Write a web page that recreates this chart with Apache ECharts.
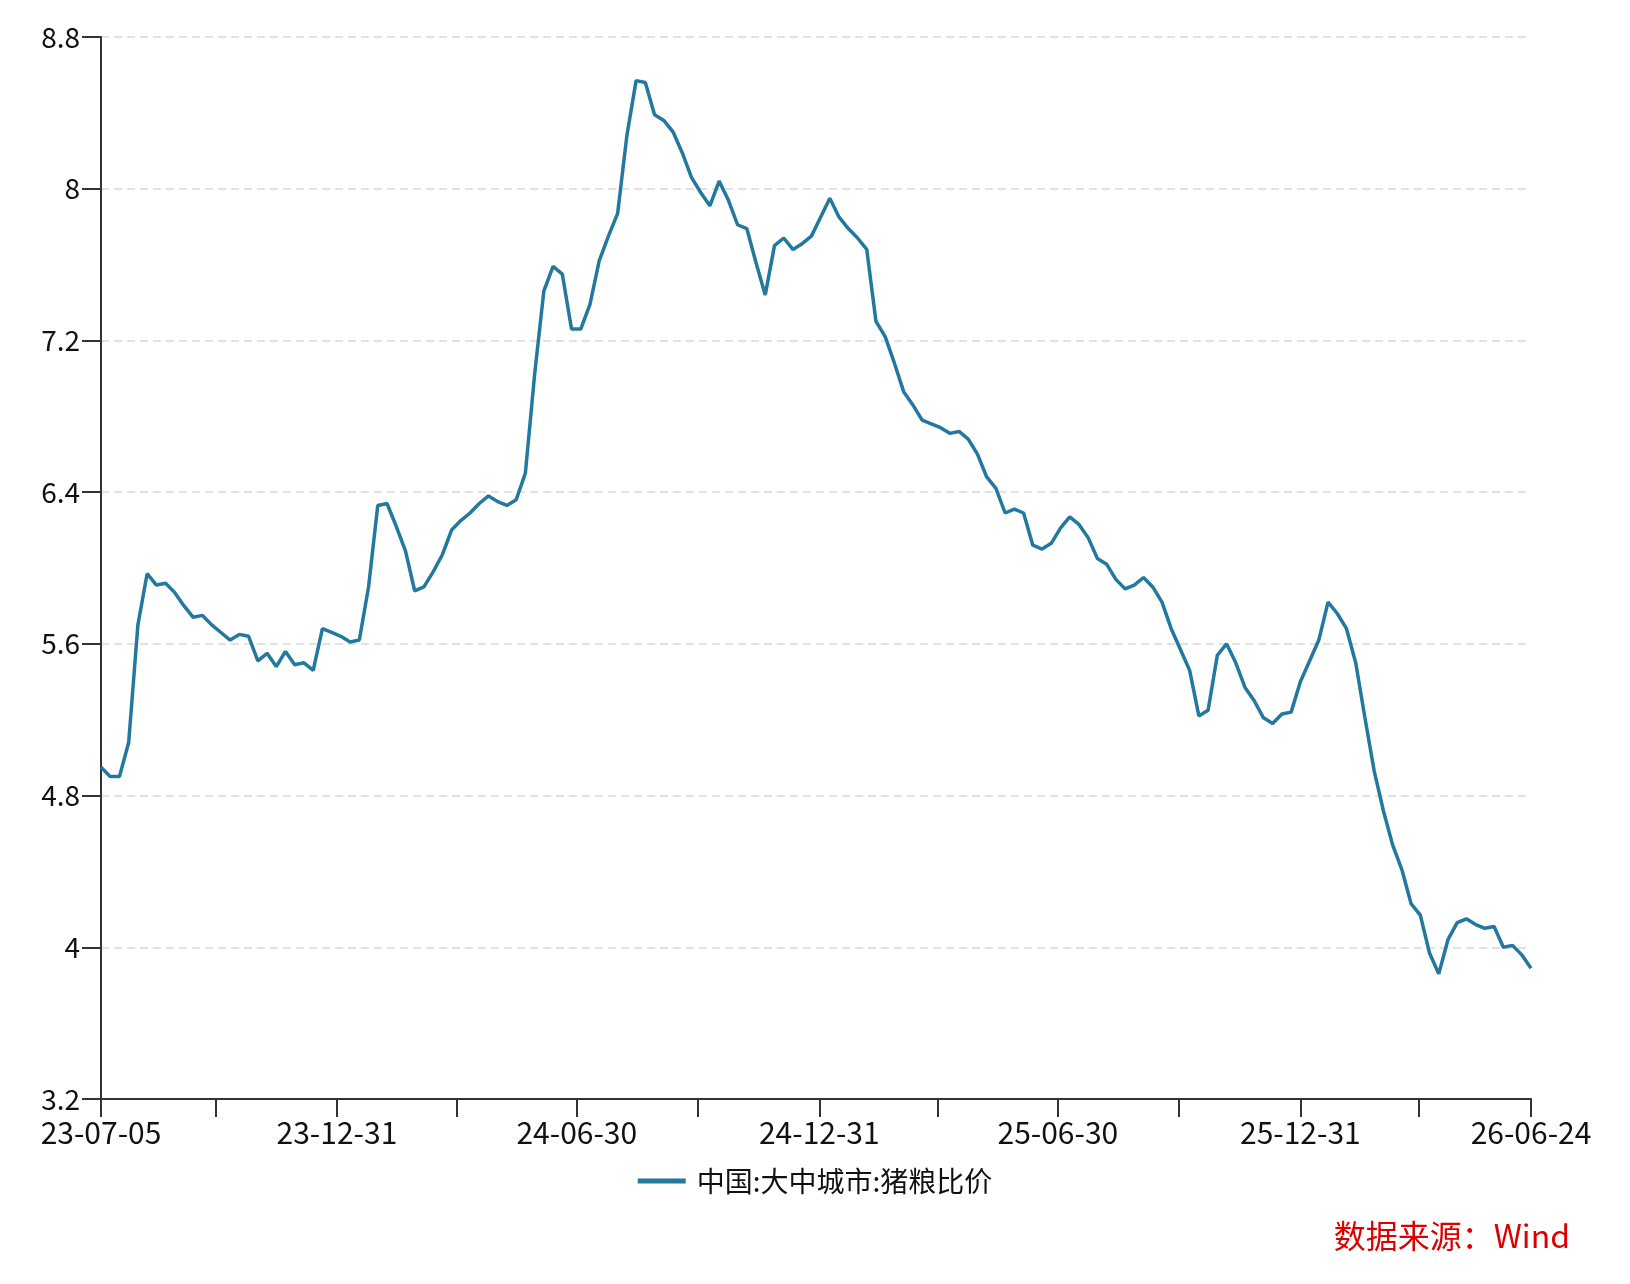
<!DOCTYPE html>
<html>
<head>
<meta charset="utf-8">
<script src="https://cdn.jsdelivr.net/npm/echarts@6/dist/echarts.min.js"></script>
<style>
html, body { margin: 0; padding: 0; background: #fff; }
#main { width: 1630px; height: 1284px; }
</style>
</head>
<body>
<div id="main"></div>
<script>
// 周度数据：2023-07-05 起，每周一个点
var startDate = '2023-07-05';
var endDate = '2026-06-24';
var seriesName = '中国:大中城市:猪粮比价';
var sourceText = '数据来源：Wind';

var ratio = [
    4.95, 4.90, 4.90, 5.08, 5.70, 5.97, 5.91, 5.92, 5.87, 5.80,
    5.74, 5.75, 5.70, 5.66, 5.62, 5.65, 5.64, 5.51, 5.55, 5.48,
    5.56, 5.49, 5.50, 5.46, 5.68, 5.66, 5.64, 5.61, 5.62, 5.90,
    6.33, 6.34, 6.22, 6.09, 5.88, 5.90, 5.98, 6.07, 6.20, 6.25,
    6.29, 6.34, 6.38, 6.35, 6.33, 6.36, 6.50, 7.02, 7.46, 7.59,
    7.55, 7.26, 7.26, 7.39, 7.62, 7.75, 7.87, 8.28, 8.57, 8.56,
    8.39, 8.36, 8.30, 8.19, 8.06, 7.98, 7.91, 8.04, 7.94, 7.81,
    7.79, 7.61, 7.44, 7.70, 7.74, 7.68, 7.71, 7.75, 7.85, 7.95,
    7.85, 7.79, 7.74, 7.68, 7.30, 7.22, 7.08, 6.93, 6.86, 6.78,
    6.76, 6.74, 6.71, 6.72, 6.68, 6.60, 6.48, 6.42, 6.29, 6.31,
    6.29, 6.12, 6.10, 6.13, 6.21, 6.27, 6.23, 6.16, 6.05, 6.02,
    5.94, 5.89, 5.91, 5.95, 5.90, 5.82, 5.68, 5.57, 5.46, 5.22,
    5.25, 5.54, 5.60, 5.50, 5.37, 5.30, 5.21, 5.18, 5.23, 5.24,
    5.40, 5.51, 5.62, 5.82, 5.76, 5.68, 5.50, 5.21, 4.93, 4.72,
    4.54, 4.41, 4.23, 4.17, 3.97, 3.86, 4.04, 4.13, 4.15, 4.12,
    4.10, 4.11, 4.00, 4.01, 3.96, 3.89
];

// 坐标轴标签与刻度
var labelDates = ['2023-07-05', '2023-12-31', '2024-06-30', '2024-12-31', '2025-06-30', '2025-12-31', '2026-06-24'];
var minorTickDates = ['2023-09-30', '2024-03-31', '2024-09-30', '2025-03-31', '2025-09-30', '2026-03-31'];
var yMin = 3.2, yMax = 8.8, yStep = 0.8;

var DAY = 24 * 3600 * 1000;
function toUTC(s) {
    var p = s.split('-');
    return Date.UTC(+p[0], +p[1] - 1, +p[2]);
}
var t0 = toUTC(startDate);
// 距起始日的天数
function toDay(s) { return Math.round((toUTC(s) - t0) / DAY); }
function fmt(day) {
    var d = new Date(t0 + Math.round(day) * DAY);
    var pad = function (n) { return (n < 10 ? '0' : '') + n; };
    return pad(d.getUTCFullYear() % 100) + '-' + pad(d.getUTCMonth() + 1) + '-' + pad(d.getUTCDate());
}

var data = [];
for (var i = 0; i < ratio.length; i++) {
    data.push([i * 7, ratio[i]]);
}

var myChart = echarts.init(document.getElementById('main'));
var font = '"Noto Sans CJK SC", "Noto Sans", sans-serif';

var option = {
    backgroundColor: '#fff',
    animation: false,
    grid: { left: 101, right: 99, top: 37, bottom: 185 },
    legend: {
        data: [seriesName],
        left: 'center',
        top: 1162,
        icon: 'rect',
        itemWidth: 48,
        itemHeight: 5,
        textStyle: { fontFamily: font, fontSize: 28, color: '#111', padding: [0, 0, 0, 6] }
    },
    xAxis: {
        type: 'value',
        min: 0,
        max: toDay(endDate),
        axisLine: { lineStyle: { color: '#333', width: 2 } },
        axisTick: {
            length: 18,
            lineStyle: { color: '#333', width: 2 },
            customValues: labelDates.concat(minorTickDates).map(toDay)
        },
        axisLabel: {
            customValues: labelDates.map(toDay),
            formatter: function (v) { return fmt(v); },
            fontFamily: font,
            fontSize: 30,
            color: '#111',
            margin: 19,
            hideOverlap: false
        },
        splitLine: { show: false }
    },
    yAxis: {
        type: 'value',
        min: yMin,
        max: yMax,
        interval: yStep,
        axisLine: { show: true, lineStyle: { color: '#333', width: 2 } },
        axisTick: { show: true, length: 19, lineStyle: { color: '#333', width: 2 } },
        axisLabel: {
            fontFamily: font,
            fontSize: 28,
            color: '#111',
            margin: 21,
            formatter: function (v) { return +v.toFixed(1) + ''; }
        },
        splitLine: { lineStyle: { color: '#d9d9d9', width: 1.5, type: [8, 5] } }
    },
    series: [
        {
            name: seriesName,
            type: 'line',
            data: data,
            showSymbol: false,
            symbol: 'none',
            lineStyle: { color: '#22789f', width: 3.5 },
            itemStyle: { color: '#22789f' }
        }
    ],
    graphic: [
        {
            type: 'text',
            right: 60,
            top: 1220,
            style: {
                text: sourceText,
                fill: '#dd0000',
                font: '32px "Noto Sans CJK SC", sans-serif'
            }
        }
    ]
};
myChart.setOption(option);
</script>
</body>
</html>
